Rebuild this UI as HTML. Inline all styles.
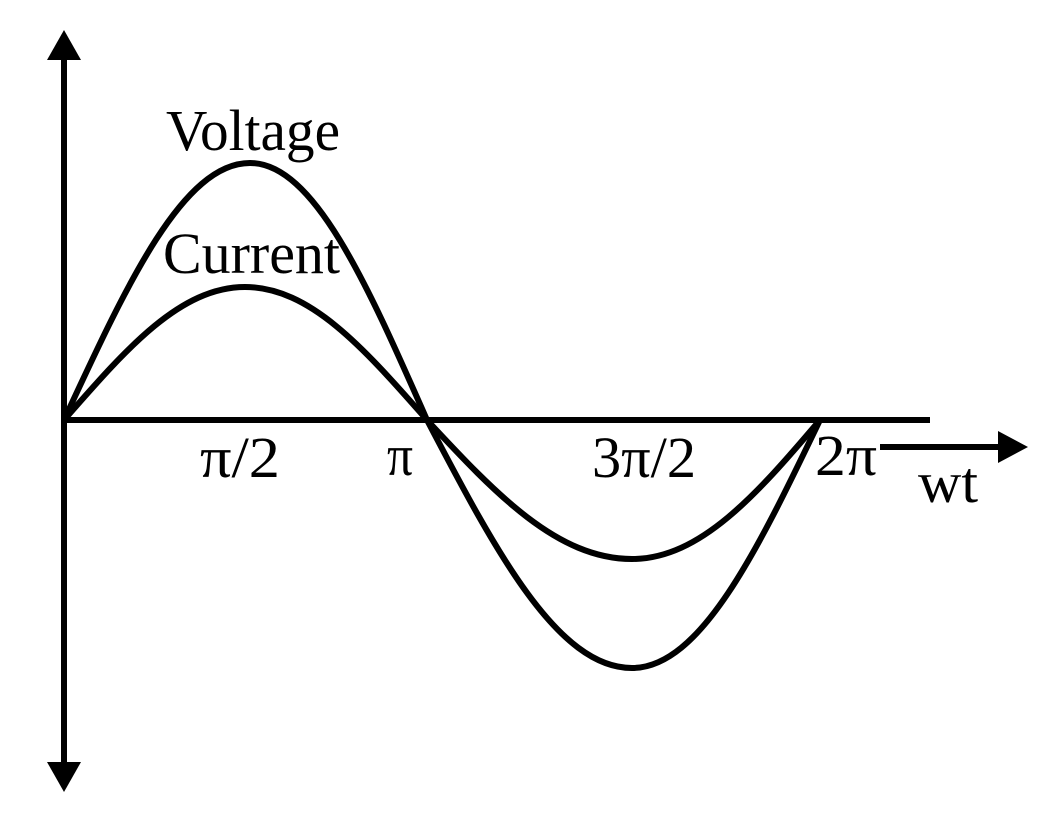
<!DOCTYPE html>
<html><head><style>html,body{margin:0;padding:0;background:#fff}svg{display:block}</style></head>
<body>
<svg width="1056" height="830" viewBox="0 0 1056 830" xmlns="http://www.w3.org/2000/svg">
<g stroke="#000" stroke-width="6" fill="none">
<line x1="64" y1="55" x2="64" y2="765"/>
<line x1="61" y1="420" x2="930" y2="420"/>
<line x1="880" y1="447" x2="1002" y2="447"/>
<path d="M64,420 C126.2,286 182.4,163 250,163 C314.3,163 367.9,286 427,420 C495.5,551 557.5,668 632,668 C700.3,668 757.2,551 820,420"/>
<path d="M64,420 C124.5,351 179.2,287 245,287 C311.2,287 366.2,351 427,420 C495.5,494 557.5,559 632,559 C700.3,559 757.2,494 820,420"/>
</g>
<polygon points="64,30 47,60 81,60" fill="#000"/>
<polygon points="64,792 47,762 81,762" fill="#000"/>
<polygon points="1028,447 998,431 998,463" fill="#000"/>
<g font-family="Liberation Serif, serif" font-size="58" fill="#000">
<text x="166" y="150" textLength="174" lengthAdjust="spacingAndGlyphs">Voltage</text>
<text x="163" y="273" textLength="177" lengthAdjust="spacingAndGlyphs">Current</text>
<text x="200" y="477" textLength="80" lengthAdjust="spacingAndGlyphs">π/2</text>
<text x="387" y="475" textLength="26" lengthAdjust="spacingAndGlyphs">π</text>
<text x="592" y="477" textLength="104" lengthAdjust="spacingAndGlyphs">3π/2</text>
<text x="815" y="475" textLength="62" lengthAdjust="spacingAndGlyphs">2π</text>
<text x="918" y="502" textLength="60" lengthAdjust="spacingAndGlyphs">wt</text>
</g>
</svg>
</body></html>
